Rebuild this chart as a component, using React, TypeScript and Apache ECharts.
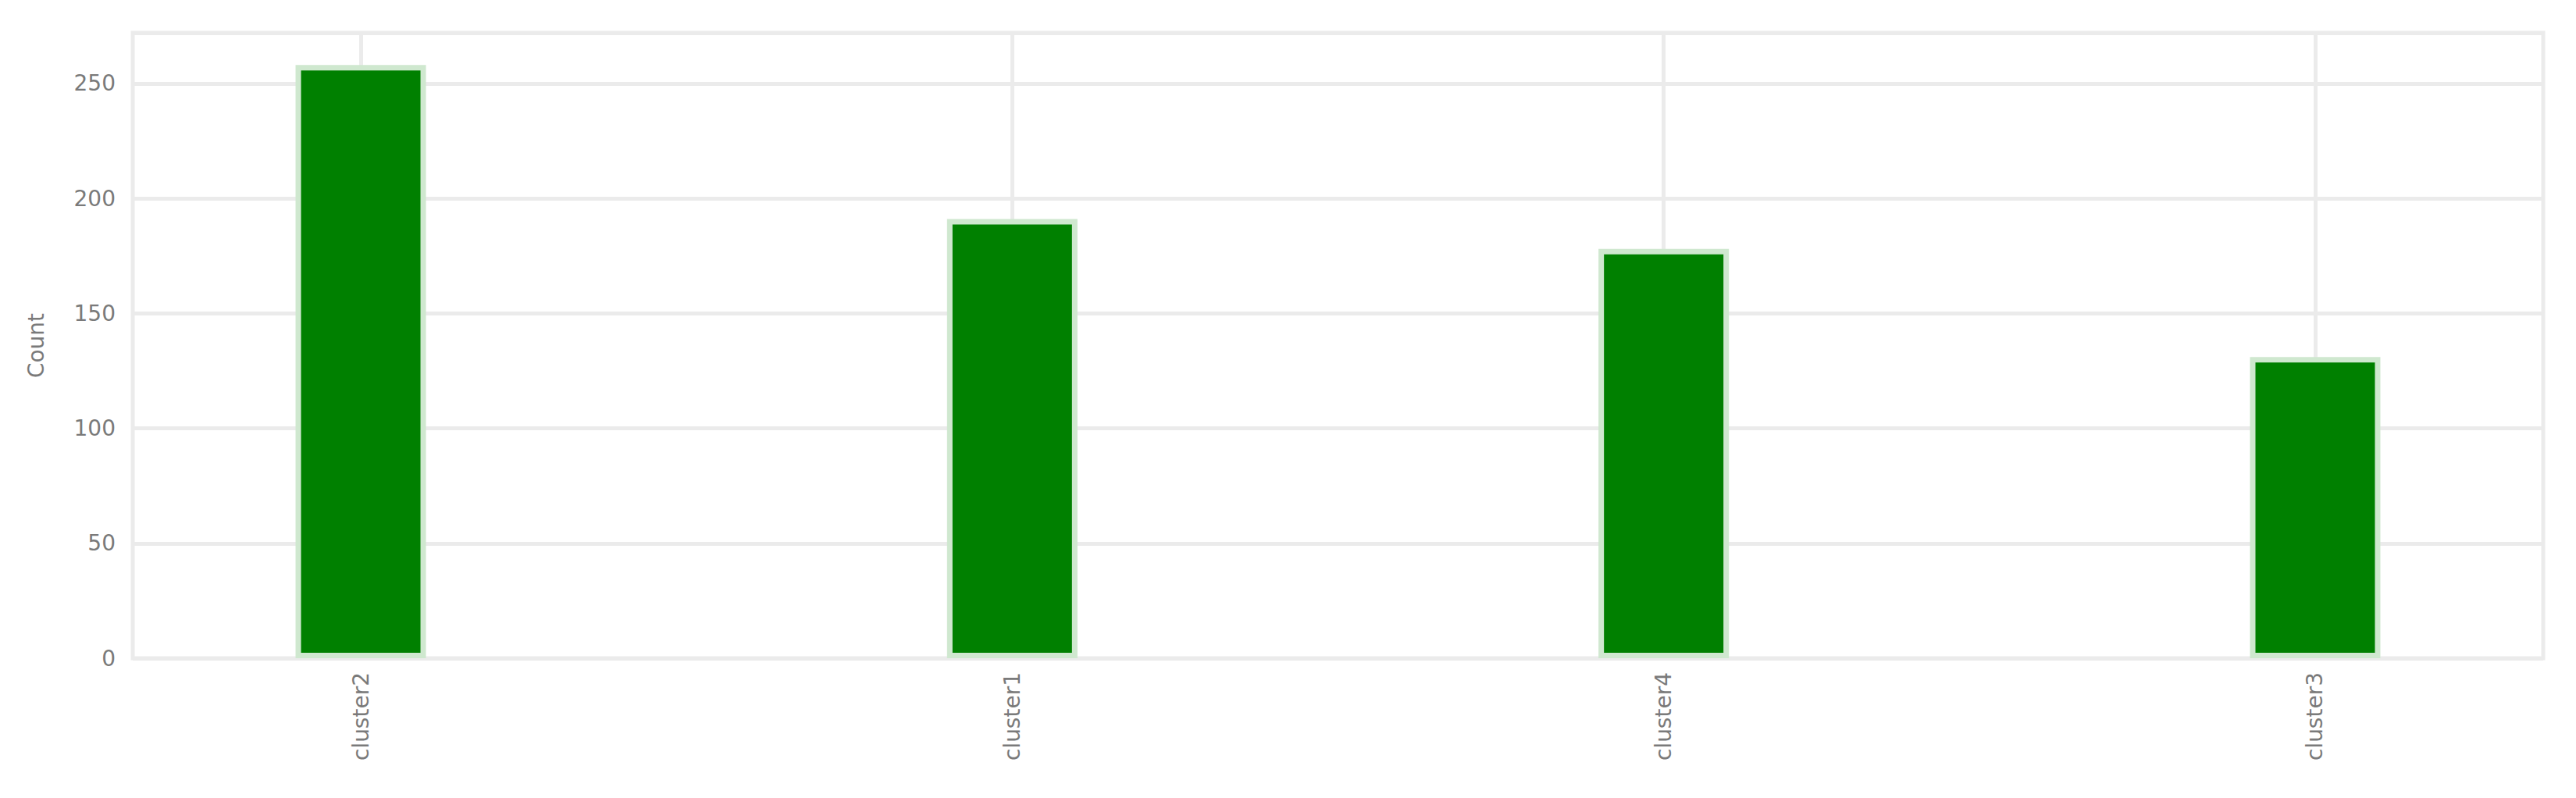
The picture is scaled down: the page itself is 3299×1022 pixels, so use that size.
import React, { useEffect, useRef } from "react";
import * as echarts from "echarts";

const categories = ["cluster2", "cluster1", "cluster4", "cluster3"];
const counts = [258, 191, 178, 131];
const yTicks = [0, 50, 100, 150, 200, 250];

export default function App() {
  const ref = useRef<HTMLDivElement>(null);
  useEffect(() => {
    if (!ref.current) return;
    const chart = echarts.init(ref.current, null, { renderer: "svg" });
    const positions = categories.map((_, i) => i);
    const pts = counts.map((c, i) => [positions[i], c]);
    chart.setOption({
      animation: false,
      backgroundColor: "#ffffff",
      grid: {
        left: 170,
        right: 42,
        top: 42,
        bottom: 179,
        show: true,
        borderColor: "#ebebeb",
        borderWidth: 5,
        backgroundColor: "#ffffff",
      },
      xAxis: {
        type: "value",
        min: -0.35,
        max: 3.35,
        axisLine: { show: false },
        axisTick: { show: false, customValues: positions },
        splitLine: { show: false },
        axisLabel: {
          customValues: positions,
          rotate: 90,
          margin: 18,
          color: "#7a7a7a",
          fontSize: 28,
          fontFamily: "DejaVu Sans",
          formatter: (v: number) => categories[Math.round(v)] ?? "",
        },
      },
      yAxis: {
        type: "value",
        min: 0,
        max: 272,
        interval: 50,
        name: "Count",
        nameLocation: "middle",
        nameGap: 110,
        nameRotate: 90,
        nameTextStyle: { color: "#7a7a7a", fontSize: 28, fontFamily: "DejaVu Sans" },
        axisLine: { show: false },
        axisTick: { show: false },
        axisLabel: {
          color: "#7a7a7a",
          fontSize: 28,
          margin: 22,
          fontFamily: "DejaVu Sans",
          formatter: (v: number) => (yTicks.includes(v) ? String(v) : ""),
        },
        splitLine: { show: true, lineStyle: { color: "#ebebeb", width: 5 } },
      },
      series: [
        {
          type: "bar",
          data: pts,
          barWidth: 167,
          clip: true,
          itemStyle: {
            color: "#008000",
            borderColor: "#cfe8cf",
            borderWidth: 7,
          },
          markLine: {
            silent: true,
            symbol: "none",
            z: 0,
            label: { show: false },
            lineStyle: { color: "#ebebeb", width: 5, type: "solid" },
            data: positions.map((p) => ({ xAxis: p })),
          },
        },
      ],
    });
    return () => chart.dispose();
  }, []);
  return (
    <div
      ref={ref}
      style={{ position: "fixed", left: 0, top: 0, width: "3299px", height: "1022px" }}
    />
  );
}
